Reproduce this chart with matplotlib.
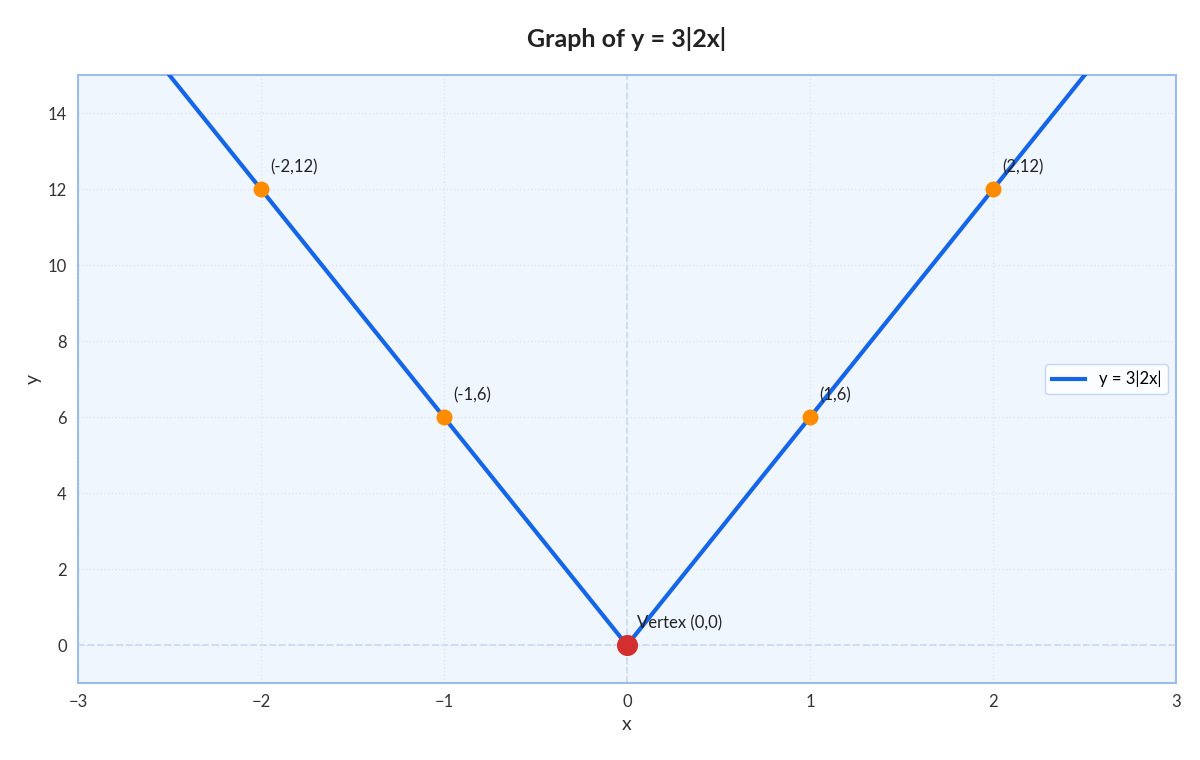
import numpy as np
import matplotlib.pyplot as plt

plt.rcParams['font.family'] = ['Lato', 'DejaVu Sans']

x_line = np.linspace(-2.5, 2.5, 501)
y_line = 3 * np.abs(2 * x_line)

pt_x = [-2, -1, 1, 2]
pt_y = [12, 6, 6, 12]
pt_labels = ['(-2,12)', '(-1,6)', '(1,6)', '(2,12)']

fig = plt.figure(figsize=(12, 7.6), dpi=100)
ax = fig.add_axes([0.065, 0.101, 0.915, 0.8])
ax.set_facecolor('#f0f6fd')

ax.axhline(0, color='#c5d9f3', ls='--', lw=1.3, zorder=1)
ax.axvline(0, color='#c5d9f3', ls='--', lw=1.3, zorder=1)
ax.grid(True, ls=':', color='#dfe6ee', lw=1)

ax.plot(x_line, y_line, color='#1565e8', lw=3, label='y = 3|2x|', zorder=3)
ax.scatter(pt_x, pt_y, s=110, color='#ff8c00', zorder=4)
for px, py, lab in zip(pt_x, pt_y, pt_labels):
    ax.annotate(lab, (px, py), xytext=(7, 12), textcoords='offset points',
                fontsize=12, color='#222222')
ax.scatter([0], [0], s=200, color='#d32f2f', zorder=5)
ax.annotate('Vertex (0,0)', (0, 0), xytext=(7, 12), textcoords='offset points',
            fontsize=12, color='#222222')

ax.set_xlim(-3, 3)
ax.set_ylim(-1, 15)
ax.set_yticks(range(0, 15, 2))
ax.set_xticks(range(-3, 4))
ax.tick_params(labelsize=12, colors='#333333', length=0, pad=8)
for s in ax.spines.values():
    s.set_color('#9cbcf0')
    s.set_linewidth(1.5)

ax.set_xlabel('x', fontsize=14, color='#333333')
ax.set_ylabel('y', fontsize=14, color='#333333')
ax.set_title('Graph of y = 3|2x|', fontsize=18, fontweight='bold', color='#222222', pad=20)

leg = ax.legend(loc='center right', fontsize=12, frameon=True, facecolor='white',
                edgecolor='#b5cdf3')

fig.savefig('out.png', dpi=100)
